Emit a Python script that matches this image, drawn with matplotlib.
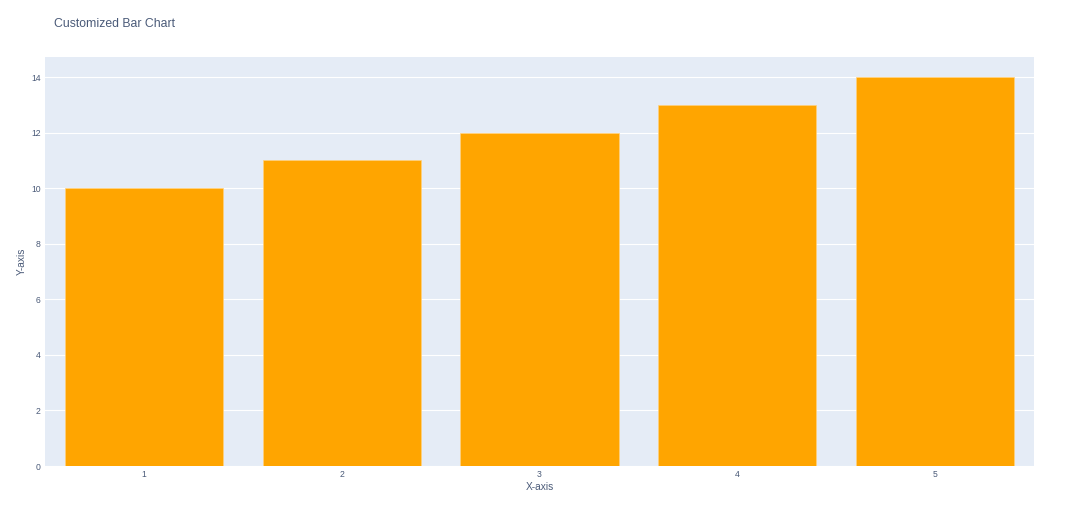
import matplotlib.pyplot as plt

plt.rcParams['font.family'] = ['Liberation Sans', 'DejaVu Sans']

categories = [1, 2, 3, 4, 5]
values = [10, 11, 12, 13, 14]
y_ticks = [0, 2, 4, 6, 8, 10, 12, 14]

text_color = '#4a5a78'

fig = plt.figure(figsize=(10.8, 5.12), dpi=100)
ax = fig.add_axes([45 / 1080, 46 / 512, 989 / 1080, 409 / 512])
ax.set_facecolor('#E5ECF6')

ax.bar(categories, values, width=0.8, color='#FFA500', edgecolor='#ffd27f', linewidth=0.5, zorder=3)

ax.set_xlim(0.5, 5.5)
ax.set_ylim(0, 14.72)
ax.set_xticks(categories)
ax.set_yticks(y_ticks)
ax.grid(axis='y', color='white', linewidth=0.8, zorder=0)
ax.set_axisbelow(True)
for s in ax.spines.values():
    s.set_visible(False)
ax.tick_params(length=0, labelsize=6.2, labelcolor=text_color, pad=3)

ax.set_xlabel('X-axis', fontsize=7.3, color=text_color)
ax.set_ylabel('Y-axis', fontsize=7.3, color=text_color)
ax.xaxis.set_label_coords(0.5, -(487 - 466) / 409, transform=ax.transAxes)
ax.yaxis.set_label_coords((22 - 45) / 989, 0.5, transform=ax.transAxes)
ax.xaxis.label.set_va('center')
ax.yaxis.label.set_va('center')
fig.text(54 / 1080, 1 - 24 / 512, 'Customized Bar Chart', fontsize=8.8, color=text_color, va='center', ha='left')

fig.savefig('out.png', dpi=100)
